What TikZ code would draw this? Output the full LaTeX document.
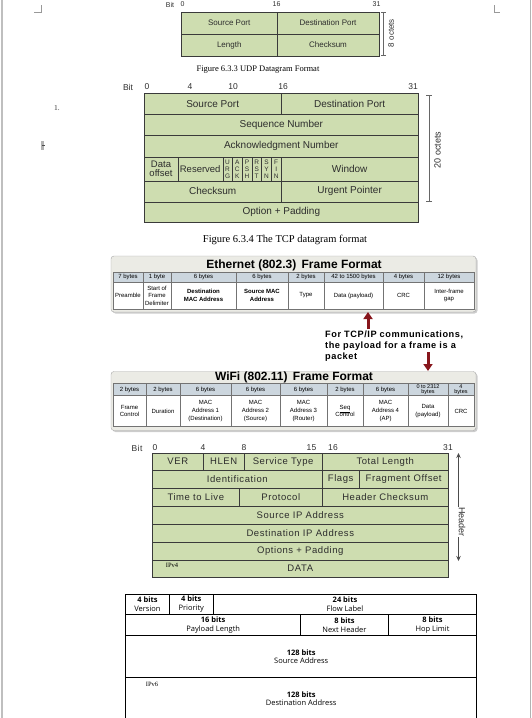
\documentclass[tikz,border=0pt]{standalone}
\usepackage{fontspec}
\setmainfont{Liberation Serif}
\setsansfont{Liberation Sans}
\newfontfamily\spacedsans[LetterSpace=6]{Liberation Sans}
\newfontfamily\vsixfont{Open Sans}
\usepackage{xcolor}
\usepackage{tikz}
\usetikzlibrary{arrows.meta,positioning,shadows}

\definecolor{cellgreen}{RGB}{206,221,176}
\definecolor{cellline}{RGB}{58,58,58}
\definecolor{celltext}{RGB}{45,45,45}
\definecolor{framegrey}{RGB}{235,235,229}
\definecolor{headblue}{RGB}{204,214,222}
\definecolor{notered}{RGB}{135,22,28}

\begin{document}
\begin{tikzpicture}[x=1pt, y=-1pt,
    udpcell/.style={draw=cellline, fill=cellgreen, inner sep=0pt, text=celltext, font=\sffamily\fontsize{8}{9}\selectfont},
    tcpcell/.style={draw=cellline, fill=cellgreen, inner sep=0pt, text=celltext, align=center, font=\sffamily\fontsize{10}{10.5}\selectfont},
    flagcell/.style={tcpcell, font=\sffamily\fontsize{6.5}{7.2}\selectfont},
    ipcell/.style={draw=cellline, fill=cellgreen, inner sep=0pt, text=celltext, font=\spacedsans\fontsize{9.5}{11}\selectfont},
    bitlabel/.style={inner sep=0pt, text=celltext, font=\sffamily\fontsize{8.5}{9}\selectfont},
    figcaption/.style={inner sep=0pt, font=\rmfamily\fontsize{10.5}{12}\selectfont},
    frameouter/.style={draw=black!35, fill=framegrey, rounded corners=3pt, drop shadow={shadow xshift=1.5pt, shadow yshift=-1.5pt, fill=black!40}},
    frametitle/.style={inner sep=0pt, font=\sffamily\bfseries\fontsize{12}{14}\selectfont},
    framehead/.style={draw=black!55, fill=headblue, inner sep=0pt, align=center, font=\sffamily\fontsize{6}{6.2}\selectfont},
    framebody/.style={draw=black!55, fill=white, inner sep=0pt, align=center, font=\sffamily\fontsize{6}{7.6}\selectfont},
    framebold/.style={framebody, font=\sffamily\bfseries\fontsize{6}{7.6}\selectfont},
    redarrow/.style={draw=notered, line width=3pt, -{Triangle[width=9pt,length=7pt]}},
    v6cell/.style={draw=black, line width=0.8pt, fill=white, inner sep=0pt, align=center, font=\vsixfont\fontsize{7.5}{8.7}\selectfont},
]
    \useasboundingbox (0,0) rectangle (532,718);

    % page marks
    \draw[black!25, line width=1.5pt] (2,0) -- (2,718);
    \draw[black!30, line width=0.6pt] (530.5,0) -- (530.5,718);
    \draw[black!40, line width=0.5pt] (34,12) -- (41,12) -- (41,5);
    \draw[black!40, line width=0.5pt] (494,5) -- (494,12) -- (500,12);
    \node[inner sep=0pt, text=black!80, font=\rmfamily\fontsize{7.5}{8}\selectfont] (listnum) at (57,108) {1.};
    \fill[black!30] (41,141) rectangle (44,150);
    \draw[black!70, line width=0.6pt] (42,145.5) -- (45,145.5);

    % UDP
    \node[bitlabel, font=\sffamily\fontsize{7}{8}\selectfont] (udpbit) at (170,4.5) {Bit};
    \node[bitlabel, font=\sffamily\fontsize{7}{8}\selectfont] (udpb0) at (182.5,4.5) {0};
    \node[bitlabel, font=\sffamily\fontsize{7}{8}\selectfont] (udpb16) at (276.5,4.5) {16};
    \node[bitlabel, font=\sffamily\fontsize{7}{8}\selectfont] (udpb31) at (376.5,4.5) {31};
    \node[udpcell, minimum width=95.5pt, minimum height=22pt] (udpsrc) at (229.25,23) {Source Port};
    \node[udpcell, minimum width=102pt, minimum height=22pt] (udpdst) at (328,23) {Destination Port};
    \node[udpcell, minimum width=95.5pt, minimum height=22pt] (udplen) at (229.25,45) {Length};
    \node[udpcell, minimum width=102pt, minimum height=22pt] (udpsum) at (328,45) {Checksum};
    \coordinate (udptop) at (383.5,12);
    \coordinate (udpbot) at (383.5,56);
    \draw[black!60, line width=0.6pt, {Bar[width=5pt]}-{Bar[width=5pt]}] (udptop) -- (udpbot);
    \node[bitlabel, rotate=90, font=\sffamily\fontsize{8}{9}\selectfont] (udpoct) at (391,33) {8 octets};
    \node[figcaption, font=\rmfamily\fontsize{8.5}{10}\selectfont] (udpcap) at (258,70) {Figure 6.3.3 UDP Datagram Format};

    % TCP
    \node[bitlabel] (tcpbit) at (128,87) {Bit};
    \node[bitlabel] (tcpb0) at (147,87) {0};
    \node[bitlabel] (tcpb4) at (190,87) {4};
    \node[bitlabel] (tcpb10) at (233,87) {10};
    \node[bitlabel] (tcpb16) at (283,87) {16};
    \node[bitlabel] (tcpb31) at (413,87) {31};
    \node[tcpcell, minimum width=136.7pt, minimum height=21pt] (tsrc) at (212.65,103.8) {Source Port};
    \node[tcpcell, minimum width=137.3pt, minimum height=21pt] (tdst) at (349.65,103.8) {Destination Port};
    \node[tcpcell, minimum width=274pt, minimum height=21pt] (tseq) at (281.3,124.8) {Sequence Number};
    \node[tcpcell, minimum width=274pt, minimum height=21.7pt] (tack) at (281.3,146.15) {Acknowledgment Number};
    \node[tcpcell, minimum width=33.4pt, minimum height=24pt, font=\sffamily\fontsize{9.5}{9.5}\selectfont] (toff) at (161,169) {Data\\offset};
    \node[tcpcell, minimum width=45pt, minimum height=24pt, font=\sffamily\fontsize{9.5}{10}\selectfont] (tres) at (200.2,169) {Reserved};
    \node[flagcell, minimum width=9.72pt, minimum height=24pt] (turgf) at (227.56,169) {U\\R\\G};
    \node[flagcell, minimum width=9.72pt, minimum height=24pt] (tackf) at (237.28,169) {A\\C\\K};
    \node[flagcell, minimum width=9.72pt, minimum height=24pt] (tpshf) at (247.0,169) {P\\S\\H};
    \node[flagcell, minimum width=9.72pt, minimum height=24pt] (trstf) at (256.72,169) {R\\S\\T};
    \node[flagcell, minimum width=9.72pt, minimum height=24pt] (tsynf) at (266.44,169) {S\\Y\\N};
    \node[flagcell, minimum width=9.72pt, minimum height=24pt] (tfinf) at (276.16,169) {F\\I\\N};
    \node[tcpcell, minimum width=137.3pt, minimum height=24pt] (twin) at (349.65,169) {Window};
    \node[tcpcell, minimum width=136.7pt, minimum height=20.7pt] (tsum) at (212.65,191.35) {Checksum};
    \node[tcpcell, minimum width=137.3pt, minimum height=20.7pt] (turg) at (349.65,191.35) {Urgent Pointer};
    \node[tcpcell, minimum width=274pt, minimum height=20pt] (topt) at (281.3,211.7) {Option + Padding};
    \coordinate (tcptop) at (429,95);
    \coordinate (tcpbot) at (429,202);
    \draw[black!60, line width=0.6pt, {Bar[width=6pt]}-{Bar[width=6pt]}] (tcptop) -- (tcpbot);
    \node[bitlabel, rotate=90, font=\sffamily\fontsize{9}{10}\selectfont] (tcpoct) at (437.5,150) {20 octets};
    \node[figcaption] (tcpcap) at (285,240) {Figure 6.3.4 The TCP datagram format};

    % Ethernet frame
    \node[frameouter, minimum width=365pt, minimum height=56pt] (ethbox) at (293.5,284) {};
    \node[frametitle] (ethtitle) at (294,265) {Ethernet (802.3)\, Frame Format};
    \node[framehead, minimum width=30pt, minimum height=9.5pt] (ethh1) at (128,277.25) {7 bytes};
    \node[framehead, minimum width=28pt, minimum height=9.5pt] (ethh2) at (157,277.25) {1 byte};
    \node[framehead, minimum width=65pt, minimum height=9.5pt] (ethh3) at (203.5,277.25) {6 bytes};
    \node[framehead, minimum width=52pt, minimum height=9.5pt] (ethh4) at (262,277.25) {6 bytes};
    \node[framehead, minimum width=36pt, minimum height=9.5pt] (ethh5) at (306,277.25) {2 bytes};
    \node[framehead, minimum width=59pt, minimum height=9.5pt] (ethh6) at (353.5,277.25) {42 to 1500 bytes};
    \node[framehead, minimum width=41pt, minimum height=9.5pt] (ethh7) at (403.5,277.25) {4 bytes};
    \node[framehead, minimum width=50pt, minimum height=9.5pt] (ethh8) at (449,277.25) {12 bytes};
    \node[framebody, minimum width=30pt, minimum height=27pt] (ethpre) at (128,295.5) {Preamble};
    \node[framebody, minimum width=28pt, minimum height=27pt] (ethsfd) at (157,295.5) {Start of\\Frame\\Delimiter};
    \node[framebold, minimum width=65pt, minimum height=27pt] (ethdst) at (203.5,295.5) {Destination\\MAC Address};
    \node[framebold, minimum width=52pt, minimum height=27pt] (ethsrc) at (262,295.5) {Source MAC\\Address};
    \node[framebody, minimum width=36pt, minimum height=27pt] (ethtype) at (306,295.5) {Type};
    \node[framebody, minimum width=59pt, minimum height=27pt] (ethdata) at (353.5,295.5) {Data (payload)};
    \node[framebody, minimum width=41pt, minimum height=27pt] (ethcrc) at (403.5,295.5) {CRC};
    \node[framebody, minimum width=50pt, minimum height=27pt] (ethgap) at (449,295.5) {Inter-frame\\gap};

    % note between the frames
    \node[anchor=north west, inner sep=0pt, align=left, text=black, font=\spacedsans\bfseries\fontsize{9.2}{11}\selectfont] (note) at (325,331) {For TCP/IP communications,\\the payload for a frame is a\\packet};
    \coordinate (uptail) at (368,329);
    \coordinate (uptip) at (368,312);
    \draw[redarrow] (uptail) -- (uptip);
    \coordinate (downtail) at (428,352);
    \coordinate (downtip) at (428,371);
    \draw[redarrow] (downtail) -- (downtip);

    % WiFi frame
    \node[frameouter, minimum width=365pt, minimum height=59pt] (wifibox) at (293.5,401) {};
    \node[frametitle] (wifititle) at (294,377.5) {WiFi (802.11)\, Frame Format};
    \node[framehead, minimum width=33pt, minimum height=12pt] (wfh1) at (129.5,389.5) {2 bytes};
    \node[framehead, minimum width=34pt, minimum height=12pt] (wfh2) at (163,389.5) {2 bytes};
    \node[framehead, minimum width=51pt, minimum height=12pt] (wfh3) at (205.5,389.5) {6 bytes};
    \node[framehead, minimum width=49pt, minimum height=12pt] (wfh4) at (255.5,389.5) {6 bytes};
    \node[framehead, minimum width=47pt, minimum height=12pt] (wfh5) at (303.5,389.5) {6 bytes};
    \node[framehead, minimum width=36pt, minimum height=12pt] (wfh6) at (345,389.5) {2 bytes};
    \node[framehead, minimum width=45pt, minimum height=12pt] (wfh7) at (385.5,389.5) {6 bytes};
    \node[framehead, minimum width=40pt, minimum height=12pt, font=\sffamily\fontsize{5.5}{5.6}\selectfont] (wfh8) at (428,389.5) {0 to 2312\\bytes};
    \node[framehead, minimum width=26pt, minimum height=12pt, font=\sffamily\fontsize{5.5}{5.6}\selectfont] (wfh9) at (461,389.5) {4\\bytes};
    \node[framebody, minimum width=33pt, minimum height=31pt] (wfctl) at (129.5,411) {Frame\\Control};
    \node[framebody, minimum width=34pt, minimum height=31pt] (wfdur) at (163,411) {Duration};
    \node[framebody, minimum width=51pt, minimum height=31pt] (wfmac1) at (205.5,411) {MAC\\Address 1\\(Destination)};
    \node[framebody, minimum width=49pt, minimum height=31pt] (wfmac2) at (255.5,411) {MAC\\Address 2\\(Source)};
    \node[framebody, minimum width=47pt, minimum height=31pt] (wfmac3) at (303.5,411) {MAC\\Address 3\\(Router)};
    \node[framebody, minimum width=36pt, minimum height=31pt] (wfseq) at (345,411) {\underline{Seq}\\Control};
    \node[framebody, minimum width=45pt, minimum height=31pt] (wfmac4) at (385.5,411) {MAC\\Address 4\\(AP)};
    \node[framebody, minimum width=40pt, minimum height=31pt] (wfdata) at (428,411) {Data\\(payload)};
    \node[framebody, minimum width=26pt, minimum height=31pt] (wfcrc) at (461,411) {CRC};

    % IPv4
    \node[bitlabel, font=\spacedsans\fontsize{8.5}{9}\selectfont] (ipbit) at (137,448) {Bit};
    \node[bitlabel, font=\spacedsans\fontsize{8.5}{9}\selectfont] (ipb0) at (155,448) {0};
    \node[bitlabel, font=\spacedsans\fontsize{8.5}{9}\selectfont] (ipb4) at (203,448) {4};
    \node[bitlabel, font=\spacedsans\fontsize{8.5}{9}\selectfont] (ipb8) at (244,448) {8};
    \node[bitlabel, font=\spacedsans\fontsize{8.5}{9}\selectfont] (ipb15) at (311.5,448) {15};
    \node[bitlabel, font=\spacedsans\fontsize{8.5}{9}\selectfont] (ipb16) at (333,448) {16};
    \node[bitlabel, font=\spacedsans\fontsize{8.5}{9}\selectfont] (ipb31) at (448,448) {31};
    \node[ipcell, minimum width=51pt, minimum height=16.7pt] (ipver) at (177.8,461.65) {VER};
    \node[ipcell, minimum width=40.7pt, minimum height=16.7pt] (iphlen) at (223.65,461.65) {HLEN};
    \node[ipcell, minimum width=78.3pt, minimum height=16.7pt] (iptos) at (283.15,461.65) {Service Type};
    \node[ipcell, minimum width=126pt, minimum height=16.7pt] (iptot) at (385.3,461.65) {Total Length};
    \node[ipcell, minimum width=170pt, minimum height=17.7pt] (ipid) at (237.3,478.85) {Identification};
    \node[ipcell, minimum width=36.7pt, minimum height=17.7pt] (ipflg) at (340.65,478.85) {Flags};
    \node[ipcell, minimum width=89.3pt, minimum height=17.7pt] (ipfrag) at (403.65,478.85) {Fragment Offset};
    \node[ipcell, minimum width=87pt, minimum height=18.3pt] (ipttl) at (195.8,496.85) {Time to Live};
    \node[ipcell, minimum width=83pt, minimum height=18.3pt] (ipproto) at (280.8,496.85) {Protocol};
    \node[ipcell, minimum width=126pt, minimum height=18.3pt] (ipchk) at (385.3,496.85) {Header Checksum};
    \node[ipcell, minimum width=296pt, minimum height=18.3pt] (ipsrc) at (300.3,515.15) {Source IP Address};
    \node[ipcell, minimum width=296pt, minimum height=18pt] (ipdst) at (300.3,533.3) {Destination IP Address};
    \node[ipcell, minimum width=296pt, minimum height=17.7pt] (ipopt) at (300.3,551.15) {Options + Padding};
    \node[ipcell, minimum width=296pt, minimum height=16.7pt] (ipdata) at (300.3,568.35) {DATA};
    \node[inner sep=0pt, font=\rmfamily\fontsize{6.5}{7}\selectfont] (ipvfour) at (172,565) {IPv4};
    \coordinate (hdrtop) at (458.5,453);
    \coordinate (hdrbot) at (458.5,561);
    \draw[black!70, line width=0.7pt, {Stealth[length=5pt,width=4.5pt]}-{Stealth[length=5pt,width=4.5pt]}] (hdrtop) -- (hdrbot);
    \node[rotate=-90, fill=white, inner sep=0.5pt, text=celltext, font=\sffamily\fontsize{9}{10}\selectfont] (hdrlabel) at (462,522) {Header};

    % IPv6
    \node[v6cell, minimum width=43.6pt, minimum height=20pt] (v6ver) at (147.5,604) {{\bfseries 4 bits}\\Version};
    \node[v6cell, minimum width=44pt, minimum height=20pt] (v6pri) at (191.3,604) {{\bfseries 4 bits}\\Priority};
    \node[v6cell, minimum width=263.4pt, minimum height=20pt] (v6flow) at (345,604) {{\bfseries 24 bits}\\Flow Label};
    \node[v6cell, minimum width=175pt, minimum height=21.7pt] (v6len) at (213.2,624.85) {{\bfseries 16 bits}\\Payload Length};
    \node[v6cell, minimum width=87.6pt, minimum height=21.7pt] (v6next) at (344.5,624.85) {{\bfseries 8 bits}\\Next Header};
    \node[v6cell, minimum width=88.4pt, minimum height=21.7pt] (v6hop) at (432.5,624.85) {{\bfseries 8 bits}\\Hop Limit};
    \node[v6cell, minimum width=351pt, minimum height=42pt] (v6src) at (301.2,656.7) {{\bfseries 128 bits}\\Source Address};
    \node[v6cell, minimum width=351pt, minimum height=42pt] (v6dst) at (301.2,698.7) {{\bfseries 128 bits}\\Destination Address};
    \node[inner sep=0pt, font=\rmfamily\fontsize{6.5}{7}\selectfont] (ipvsix) at (152,684) {IPv6};
\end{tikzpicture}
\end{document}
